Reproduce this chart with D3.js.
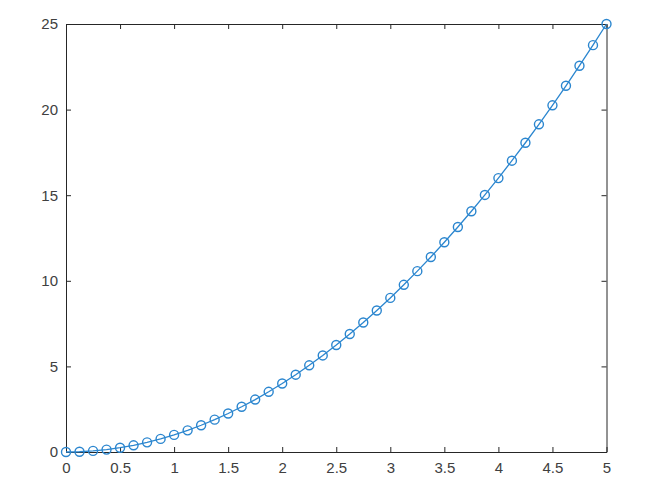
<!DOCTYPE html>
<html>
<head>
<meta charset="utf-8">
<script src="https://cdn.jsdelivr.net/npm/d3@7"></script>
<style>
  body { margin: 0; background: #fff; }
  svg { display: block; }
</style>
</head>
<body>
<div id="chart"></div>
<script>
const width = 669;
const height = 494;

// sample points (0 to 5, step 0.125)
const xValues = [
  0, 0.125, 0.25, 0.375, 0.5, 0.625, 0.75, 0.875, 1, 1.125,
  1.25, 1.375, 1.5, 1.625, 1.75, 1.875, 2, 2.125, 2.25, 2.375,
  2.5, 2.625, 2.75, 2.875, 3, 3.125, 3.25, 3.375, 3.5, 3.625,
  3.75, 3.875, 4, 4.125, 4.25, 4.375, 4.5, 4.625, 4.75, 4.875, 5
];
const yValues = [
  0, 0.016, 0.063, 0.141, 0.25, 0.391, 0.563, 0.766, 1, 1.266,
  1.563, 1.891, 2.25, 2.641, 3.063, 3.516, 4, 4.516, 5.063, 5.641,
  6.25, 6.891, 7.563, 8.266, 9, 9.766, 10.563, 11.391, 12.25, 13.141,
  14.063, 15.016, 16, 17.016, 18.063, 19.141, 20.25, 21.391, 22.563, 23.766, 25
];
const xTicks = [0, 0.5, 1, 1.5, 2, 2.5, 3, 3.5, 4, 4.5, 5];
const yTicks = [0, 5, 10, 15, 20, 25];

const margin = {left: 66, right: 62.5, top: 24, bottom: 42};
const color = '#2b86cf';
const axisColor = '#262626';
const font = '"Liberation Sans", Arial, sans-serif';

const points = xValues.map((x, i) => ({x, y: yValues[i]}));

const x = d3.scaleLinear()
  .domain([0, 5])
  .range([margin.left, width - margin.right]);

const y = d3.scaleLinear()
  .domain([0, 25])
  .range([height - margin.bottom, margin.top]);

const svg = d3.select('#chart').append('svg')
  .attr('width', width)
  .attr('height', height);

const tickLen = 5;

// axis styling: dark grey box, ticks point inward
const styleAxis = g => {
  g.attr('font-size', 15).attr('font-family', font);
  g.select('.domain').attr('stroke', axisColor);
  g.selectAll('.tick line').attr('stroke', axisColor);
  g.selectAll('.tick text').attr('fill', '#404040');
};

svg.append('g')
  .attr('transform', `translate(0,${y(0)})`)
  .call(d3.axisBottom(x).tickValues(xTicks).tickSizeInner(-tickLen).tickSizeOuter(0).tickPadding(10).tickFormat(d3.format('')))
  .call(styleAxis)
  .call(g => g.selectAll('.tick text').attr('dy', '0.71em'));

svg.append('g')
  .attr('transform', `translate(0,${y(25)})`)
  .call(d3.axisTop(x).tickValues(xTicks).tickSizeInner(-tickLen).tickSizeOuter(0).tickFormat(''))
  .call(styleAxis);

svg.append('g')
  .attr('transform', `translate(${x(0)},0)`)
  .call(d3.axisLeft(y).tickValues(yTicks).tickSizeInner(-tickLen).tickSizeOuter(0).tickPadding(8))
  .call(styleAxis);

svg.append('g')
  .attr('transform', `translate(${x(5)},0)`)
  .call(d3.axisRight(y).tickValues(yTicks).tickSizeInner(-tickLen).tickSizeOuter(0).tickFormat(''))
  .call(styleAxis);

const line = d3.line()
  .x(d => x(d.x))
  .y(d => y(d.y));

svg.append('path')
  .datum(points)
  .attr('d', line)
  .attr('fill', 'none')
  .attr('stroke', color)
  .attr('stroke-width', 1.3);

svg.append('g')
  .selectAll('circle')
  .data(points)
  .join('circle')
  .attr('cx', d => x(d.x))
  .attr('cy', d => y(d.y))
  .attr('r', 4.5)
  .attr('fill', 'none')
  .attr('stroke', color)
  .attr('stroke-width', 1.4);
</script>
</body>
</html>
